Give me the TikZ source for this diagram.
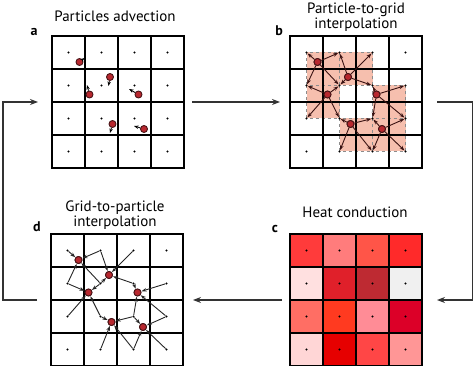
\documentclass[tikz,border=0pt]{standalone}
\usepackage{fontspec}
\setmainfont{PT Sans}
\usetikzlibrary{arrows.meta}
\pgfdeclarelayer{bg}
\pgfsetlayers{bg,main}
\definecolor{partred}{HTML}{B8282F}
\definecolor{partdark}{HTML}{4A1518}
\definecolor{dualfill}{HTML}{F6BFAE}
\definecolor{flowcol}{HTML}{3A1212}
\definecolor{loopcol}{HTML}{333333}
\definecolor{cA}{HTML}{FF3B3B}\definecolor{cB}{HTML}{FF7C7C}\definecolor{cC}{HTML}{FF5548}\definecolor{cD}{HTML}{FF2A2A}
\definecolor{cE}{HTML}{FFE0E0}\definecolor{cF}{HTML}{E0202A}\definecolor{cG}{HTML}{BE2A32}\definecolor{cH}{HTML}{F0F0F0}
\definecolor{cI}{HTML}{FF6E64}\definecolor{cJ}{HTML}{FF3A20}\definecolor{cK}{HTML}{FF8C96}\definecolor{cL}{HTML}{DC0028}
\definecolor{cM}{HTML}{FFD6D6}\definecolor{cN}{HTML}{E60000}\definecolor{cO}{HTML}{FF4646}\definecolor{cP}{HTML}{FF9696}
\tikzset{
  gridline/.style={line width=1.4pt, draw=black},
  frame/.style={draw=black, line width=1.4pt, minimum size=132pt, inner sep=0pt, outer sep=0pt},
  gdot/.style={circle, fill=black, inner sep=0pt, minimum size=2.2pt, outer sep=0.3pt},
  part/.style={circle, fill=partred, draw=partdark, line width=0.9pt, inner sep=0pt, minimum size=7pt},
  flowb/.style={draw=flowcol, line width=0.9pt, -{Stealth[length=5pt,width=3.6pt]}},
  flowd/.style={draw=black!85, line width=0.9pt, -{Stealth[length=5pt,width=3.6pt]}, shorten >=0.3pt},
  vel/.style={draw=black, line width=0.9pt, -{Stealth[length=4.5pt,width=3.4pt]}},
  looparrow/.style={draw=loopcol, line width=1.3pt, -{Stealth[length=8pt,width=6pt]}},
  ttl/.style={font=\fontsize{15}{16}\selectfont, inner sep=0pt},
  lbl/.style={font=\fontsize{14}{16}\selectfont\bfseries, inner sep=0pt},
  dualsq/.style={fill=dualfill},
  dualedge/.style={draw=black!45, dashed, line width=0.6pt}
}
\newcommand{\mkgridlines}[3]{%
  \foreach \k in {1,2,3} {
    \draw[gridline] (#2+33*\k,#3) -- (#2+33*\k,#3+132);
    \draw[gridline] (#2,#3+33*\k) -- (#2+132,#3+33*\k);
  }
  \node[frame] (#1) at (#2+66,#3+66) {};
  \foreach \i in {0,...,3} \foreach \j in {0,...,3}
    \node[gdot] (#1-\i-\j) at (#2+16.5+33*\i,#3+16.5+33*\j) {};
}
\newcommand{\mkparts}[3]{%
  \node[part] (#1p1) at (#2+27.5,#3+26) {};
  \node[part] (#1p2) at (#2+58,#3+41) {};
  \node[part] (#1p3) at (#2+37.5,#3+58.5) {};
  \node[part] (#1p4) at (#2+86.5,#3+58.5) {};
  \node[part] (#1p5) at (#2+60.5,#3+88) {};
  \node[part] (#1p6) at (#2+92,#3+93) {};
}
\begin{document}
\begin{tikzpicture}[x=1pt,y=-1pt]
\useasboundingbox (0,0) rectangle (474,366);

% ---------- titles and labels
\node[ttl] (ta) at (115,16) {Particles advection};
\node[ttl, align=center] (tb) at (356,17) {Particle-to-grid\\[-1pt]interpolation};
\node[ttl] (tc) at (355,212) {Heat conduction};
\node[ttl, align=center] (td) at (115,215) {Grid-to-particle\\[-1pt]interpolation};
\node[lbl] (la) at (34,32) {a};
\node[lbl] (lb) at (279,31) {b};
\node[lbl] (lc) at (275,229) {c};
\node[lbl] (ld) at (37,227) {d};

% ---------- panel a
\mkgridlines{A}{52}{36}
\coordinate (av1) at (52+32.5,36+22);
\coordinate (av2) at (52+56.5,36+50);
\coordinate (av3) at (52+35,36+49);
\coordinate (av4) at (52+77,36+53);
\coordinate (av5) at (52+58,36+97);
\coordinate (av6) at (52+82,36+90);
\mkparts{a}{52}{36}
\draw[vel] (ap1) -- (av1);
\draw[vel] (ap2) -- (av2);
\draw[vel] (ap3) -- (av3);
\draw[vel] (ap4) -- (av4);
\draw[vel] (ap5) -- (av5);
\draw[vel] (ap6) -- (av6);

% ---------- panel b
\mkgridlines{B}{290}{36}
\begin{pgfonlayer}{bg}
  \foreach \i/\j in {0/0,1/0,0/1,2/1,1/2,2/2}
    \fill[dualsq] (290+16.5+33*\i,36+16.5+33*\j) rectangle ++(33,33);
  \foreach \i/\j in {0/0,1/0,0/1,2/1,1/2,2/2}
    \draw[dualedge] (290+16.5+33*\i,36+16.5+33*\j) rectangle ++(33,33);
\end{pgfonlayer}
\mkparts{b}{290}{36}
\foreach \p/\i/\j in {1/0/0,2/1/0,3/0/1,4/2/1,5/1/2,6/2/2} {
  \pgfmathtruncatemacro{\ii}{\i+1}
  \pgfmathtruncatemacro{\jj}{\j+1}
  \draw[flowb] (bp\p) -- (B-\i-\j);
  \draw[flowb] (bp\p) -- (B-\ii-\j);
  \draw[flowb] (bp\p) -- (B-\i-\jj);
  \draw[flowb] (bp\p) -- (B-\ii-\jj);
}
\foreach \p in {1,...,6} \node[part] at (bp\p) {};

% ---------- panel c
\foreach \col [count=\n from 0] in {cA,cB,cC,cD,cE,cF,cG,cH,cI,cJ,cK,cL,cM,cN,cO,cP} {
  \pgfmathtruncatemacro{\ci}{mod(\n,4)}
  \pgfmathtruncatemacro{\cj}{div(\n,4)}
  \fill[\col] (290+33*\ci,234+33*\cj) rectangle ++(33,33);
}
\mkgridlines{C}{290}{234}

% ---------- panel d
\mkgridlines{D}{51}{234}
\mkparts{d}{51}{234}
\foreach \p/\i/\j in {1/0/0,2/1/0,3/0/1,4/2/1,5/1/2,6/2/2} {
  \pgfmathtruncatemacro{\ii}{\i+1}
  \pgfmathtruncatemacro{\jj}{\j+1}
  \draw[flowd] (D-\i-\j) -- (dp\p);
  \draw[flowd] (D-\ii-\j) -- (dp\p);
  \draw[flowd] (D-\i-\jj) -- (dp\p);
  \draw[flowd] (D-\ii-\jj) -- (dp\p);
}
\foreach \p in {1,...,6} \node[part] at (dp\p) {};

% ---------- cycle arrows
\coordinate (r1) at (472.5,102);
\coordinate (r2) at (472.5,300);
\coordinate (l1) at (3,300);
\coordinate (l2) at (3,102);
\draw[looparrow] ([xshift=8pt]A.east) -- ([xshift=-10pt]B.west);
\draw[looparrow] ([xshift=15pt]B.east) -- (r1) -- (r2) -- ([xshift=15pt]C.east);
\draw[looparrow] ([xshift=-8pt]C.west) -- ([xshift=10pt]D.east);
\draw[looparrow] ([xshift=-14pt]D.west) -- (l1) -- (l2) -- ([xshift=-14pt]A.west);
\end{tikzpicture}
\end{document}
